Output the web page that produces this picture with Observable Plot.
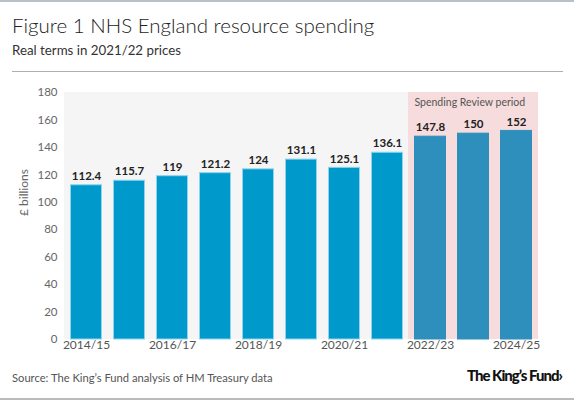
<!DOCTYPE html>
<html>
<head>
<meta charset="utf-8">
<script src="https://cdn.jsdelivr.net/npm/d3@7"></script>
<script src="https://cdn.jsdelivr.net/npm/@observablehq/plot@0.6"></script>
<style>
  html, body { margin: 0; padding: 0; background: #fff; }
  #wrap { position: relative; width: 574px; height: 400px; overflow: hidden; font-family: Lato, "Noto Sans", sans-serif; }
  #topline { position: absolute; left: 0; top: 0; width: 574px; height: 2px; background: #b9c0c6; }
  #title { position: absolute; left: 12px; top: 13px; font-size: 20.5px; font-weight: 300; color: #222; white-space: nowrap; }
  #subtitle { position: absolute; left: 12px; top: 42px; font-size: 13.3px; color: #333; white-space: nowrap; }
  #sep { position: absolute; left: 12px; top: 71px; width: 551px; height: 1px; background: #a9b1b8; }
  #chart { position: absolute; left: 0; top: 80px; }
  #source { position: absolute; left: 12px; top: 371px; font-size: 11.2px; color: #555; white-space: nowrap; }
  #logo { position: absolute; right: 12px; top: 366px; font-size: 15px; font-weight: 900; color: #111; letter-spacing: -1px; white-space: nowrap; }
  #botline { position: absolute; left: 0; top: 398px; width: 574px; height: 2px; background: #b9bcbf; }
</style>
</head>
<body>
<div id="wrap">
  <div id="topline"></div>
  <div id="title">Figure 1 NHS England resource spending</div>
  <div id="subtitle">Real terms in 2021/22 prices</div>
  <div id="sep"></div>
  <div id="chart"></div>
  <div id="source">Source: The King’s Fund analysis of HM Treasury data</div>
  <div id="logo">The King’s Fund›</div>
  <div id="botline"></div>
</div>
<script>
const years = ["2014/15","2015/16","2016/17","2017/18","2018/19","2019/20","2020/21","2021/22","2022/23","2023/24","2024/25"];
const values = [112.4, 115.7, 119, 121.2, 124, 131.1, 125.1, 136.1, 147.8, 150, 152];
const labels = ["112.4","115.7","119","121.2","124","131.1","125.1","136.1","147.8","150","152"];
const periods = ["hist","hist","hist","hist","hist","hist","hist","hist","sr","sr","sr"];
const xTickLabels = ["2014/15","2016/17","2018/19","2020/21","2022/23","2024/25"];
const yTicks = [0,20,40,60,80,100,120,140,160,180];
const yMax = 180;
const annotation = "Spending Review period";
const yLabel = "£ billions";

const data = years.map((y, i) => ({year: y, value: values[i], label: labels[i], period: periods[i]}));

const barFill = {hist: "#0099cc", sr: "#2e8fbc"};
const barStroke = {hist: "#8fd3ec", sr: "#2e8fbc"};
const bgFill = {hist: "#f5f5f5", sr: "#f6dcdc"};

const W = 574, H = 285;
const mL = 60, mR = 32;
const step = (W - mL - mR) / (years.length - 0.25 + 2 * 0.115);
const gap = step * 0.25;

const chart = Plot.plot({
  width: W,
  height: H,
  marginTop: 12,
  marginBottom: 26,
  marginLeft: mL,
  marginRight: mR,
  style: {fontFamily: "Lato, 'Noto Sans', sans-serif", background: "transparent", overflow: "visible"},
  x: {type: "band", domain: years, paddingInner: 0.25, paddingOuter: 0.115, label: null},
  y: {domain: [0, yMax], label: null},
  marks: [
    Plot.barY(data, {x: "year", y1: 0, y2: yMax, fill: d => bgFill[d.period], insetLeft: -gap/2 - 0.5, insetRight: -gap/2 - 0.5}),
    Plot.barY(data, {x: "year", y: "value", fill: d => barFill[d.period], stroke: d => barStroke[d.period], strokeWidth: 1, insetLeft: 0.5, insetRight: 0.5}),
    Plot.text(data, {x: "year", y: "value", text: "label", dy: -9, fontWeight: "bold", fontSize: 11.5, fill: "#222"}),
    Plot.text([annotation], {x: () => "2022/23", y: () => yMax, text: d => d, textAnchor: "start", dx: -16, dy: 10, fontSize: 10.5, fill: "#555"}),
    Plot.axisY({ticks: yTicks, tickSize: 0, tickPadding: 3, fontSize: 11.5, color: "#666", label: null}),
    Plot.axisX({ticks: xTickLabels, tickSize: 0, tickPadding: 1, fontSize: 12, color: "#555", label: null}),
    Plot.text([yLabel], {frameAnchor: "left", text: d => d, rotate: -90, dx: -36, dy: 0, fontSize: 12, fill: "#666"})
  ]
});
document.getElementById("chart").appendChild(chart);
</script>
</body>
</html>
